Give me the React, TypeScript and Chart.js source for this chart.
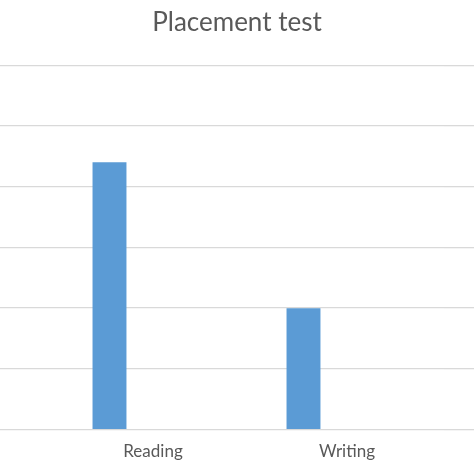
import React, { useEffect, useRef } from "react";
import { Chart, registerables } from "chart.js";

Chart.register(...registerables);

const chartTitle = "Placement test";
const categories = ["Reading", "Writing"];
const scoreValues = [44, 20];
const emptySeries = [null, null];
const yMin = 0;
const yMax = 60;
const yStep = 10;

export default function App() {
  const canvasRef = useRef<HTMLCanvasElement | null>(null);

  useEffect(() => {
    if (!canvasRef.current) return;
    const gridColor = "#d9d9d9";
    const textColor = "#595959";
    const chart = new Chart(canvasRef.current, {
      type: "bar",
      data: {
        labels: categories,
        datasets: [
          {
            label: chartTitle,
            data: scoreValues,
            backgroundColor: "#5b9bd5",
            categoryPercentage: 0.897,
            barPercentage: 0.39,
          },
          {
            label: "",
            data: emptySeries as any,
            backgroundColor: "#ed7d31",
            categoryPercentage: 0.897,
            barPercentage: 0.39,
          },
        ],
      },
      options: {
        animation: false,
        responsive: true,
        maintainAspectRatio: false,
        layout: { padding: { top: 0, bottom: 0, left: 0, right: 0 } },
        plugins: {
          legend: { display: false },
          tooltip: { enabled: false },
          title: {
            display: true,
            text: chartTitle,
            color: textColor,
            font: { family: "Lato", size: 26, weight: "normal" },
            padding: { top: 7, bottom: 27 },
          },
        },
        scales: {
          x: {
            grid: { display: false, drawTicks: false, tickLength: 0 },
            border: { display: false },
            ticks: {
              color: textColor,
              padding: 12,
              font: { family: "Lato", size: 17 },
            },
          },
          y: {
            position: "left",
            min: yMin,
            max: yMax,
            ticks: { display: false, stepSize: yStep },
            grid: { color: gridColor, lineWidth: 1.3, drawTicks: true, tickLength: 56 },
            border: { display: false },
          },
          y2: {
            position: "right",
            min: yMin,
            max: yMax,
            ticks: { display: false, stepSize: yStep },
            grid: { color: gridColor, lineWidth: 1.3, drawTicks: true, tickLength: 30, drawOnChartArea: false },
            border: { display: false },
          },
        },
      },
    });
    return () => chart.destroy();
  }, []);

  return (
    <div style={{ position: "fixed", left: 0, top: 0, width: 474, height: 474, background: "#fff" }}>
      <canvas ref={canvasRef} />
    </div>
  );
}
